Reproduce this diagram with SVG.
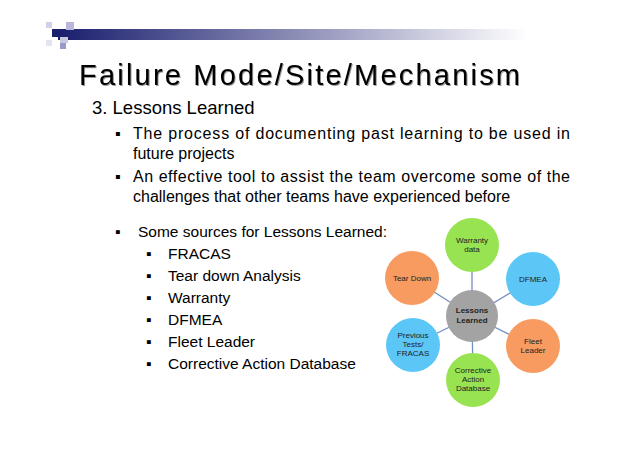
<svg xmlns="http://www.w3.org/2000/svg" width="638" height="451" viewBox="0 0 638 451">
<defs>
<linearGradient id="bar" x1="0" x2="1" y1="0" y2="0"><stop offset="0" stop-color="#1a1f6e"/><stop offset="0.5" stop-color="#8a8cb5"/><stop offset="1" stop-color="#ffffff"/></linearGradient>
</defs>
<style>
.t{font-family:"Liberation Sans",Arial,sans-serif;fill:#000}
.b{font-size:16px}
.s{font-size:15.5px}
.n{font-family:"Liberation Sans",Arial,sans-serif;font-size:8px;fill:#222;text-anchor:middle}
.c{stroke:#6f8fc0;stroke-width:1.3}
.g{fill:#98e352}.bl{fill:#5cc6f7}.o{fill:#f79b60}
</style>
<rect width="638" height="451" fill="#fff"/>
<rect x="58" y="29" width="470" height="11" fill="url(#bar)"/>
<rect x="46" y="22" width="6" height="6" fill="#d0d0e6"/>
<rect x="52" y="29" width="8" height="8" fill="#1a1f6e"/>
<rect x="66" y="22" width="8" height="8" fill="#b8b8da"/>
<rect x="60" y="37" width="8" height="6" fill="#c8c8e0"/>
<rect x="46" y="40" width="6" height="6" fill="#e4e4f0"/>
<rect x="60" y="43" width="6" height="6" fill="#9a9ac8"/>
<text class="t" x="79" y="85" font-size="29" textLength="441" style="filter:drop-shadow(1px 1px 0.5px #999)">Failure Mode/Site/Mechanism</text>
<text class="t" x="92" y="114" font-size="18.5">3.  Lessons Learned</text>
<g class="t b">
<text x="115" y="139">▪</text><text x="133" y="139" textLength="437">The process of documenting past learning to be used in</text>
<text x="133" y="159">future projects</text>
<text x="115" y="182">▪</text><text x="133" y="182" textLength="437">An effective tool to assist the team overcome some of the</text>
<text x="133" y="202">challenges that other teams have experienced before</text>
</g>
<g class="t s">
<text x="115" y="237">▪</text><text x="138" y="237">Some sources for Lessons Learned:</text>
<text x="146" y="259">▪</text><text x="168" y="259">FRACAS</text>
<text x="146" y="281">▪</text><text x="168" y="281">Tear down Analysis</text>
<text x="146" y="303">▪</text><text x="168" y="303">Warranty</text>
<text x="146" y="325">▪</text><text x="168" y="325">DFMEA</text>
<text x="146" y="347">▪</text><text x="168" y="347">Fleet Leader</text>
<text x="146" y="369">▪</text><text x="168" y="369">Corrective Action Database</text>
</g>
<g id="connectors" class="c">
<line x1="472" y1="316" x2="472" y2="245"/>
<line x1="472" y1="316" x2="533" y2="279"/>
<line x1="472" y1="316" x2="533" y2="346"/>
<line x1="472" y1="316" x2="473" y2="380"/>
<line x1="472" y1="316" x2="413" y2="345"/>
<line x1="472" y1="316" x2="412" y2="278"/>
</g>
<g id="center"><circle cx="472" cy="316" r="26" fill="#a3a3a3"/><text class="n" font-weight="bold" x="472" y="313">Lessons</text><text class="n" font-weight="bold" x="472" y="323">Learned</text></g>
<g id="warranty"><circle class="g" cx="472" cy="245" r="27"/><text class="n" x="472" y="243">Warranty</text><text class="n" x="472" y="252">data</text></g>
<g id="dfmea"><circle class="bl" cx="533" cy="279" r="27"/><text class="n" x="533" y="282">DFMEA</text></g>
<g id="fleet"><circle class="o" cx="533" cy="346" r="27"/><text class="n" x="533" y="344">Fleet</text><text class="n" x="533" y="353">Leader</text></g>
<g id="corrective"><circle class="g" cx="473" cy="380" r="27"/><text class="n" x="473" y="373">Corrective</text><text class="n" x="473" y="382">Action</text><text class="n" x="473" y="391">Database</text></g>
<g id="previous"><circle class="bl" cx="413" cy="345" r="27"/><text class="n" x="413" y="338">Previous</text><text class="n" x="413" y="347">Tests/</text><text class="n" x="413" y="356">FRACAS</text></g>
<g id="teardown"><circle class="o" cx="412" cy="278" r="27"/><text class="n" x="412" y="281">Tear Down</text></g>
</svg>
